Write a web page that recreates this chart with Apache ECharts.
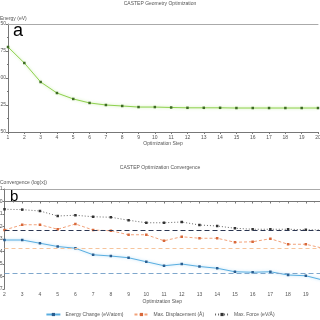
<!DOCTYPE html>
<html>
<head>
<meta charset="utf-8">
<script src="https://cdn.jsdelivr.net/npm/echarts@6/dist/echarts.min.js"></script>
<style>
  html, body { margin: 0; padding: 0; background: #fff; }
  #chart { width: 320px; height: 320px; }
</style>
</head>
<body>
<div id="chart"></div>
<script>
// (a) geometry optimisation energy
const topSteps = [1, 2, 3, 4, 5, 6, 7, 8, 9, 10, 11, 12, 13, 14, 15, 16, 17, 18, 19, 20];
const energy = [-4559.713, -4559.861, -4560.037, -4560.139, -4560.194, -4560.231, -4560.250,
  -4560.259, -4560.269, -4560.269, -4560.273, -4560.276, -4560.276, -4560.276, -4560.278,
  -4560.278, -4560.278, -4560.278, -4560.278, -4560.278];

// (b) convergence, log scale values
const bottomSteps = [2, 3, 4, 5, 6, 7, 8, 9, 10, 11, 12, 13, 14, 15, 16, 17, 18, 19, 20];
const energyChange = [-3.08, -3.08, -3.34, -3.60, -3.74, -4.26, -4.36, -4.50, -4.82, -5.14,
  -5.00, -5.20, -5.34, -5.62, -5.66, -5.62, -5.88, -5.94, -6.30];
const maxDisp = [-2.28, -1.86, -1.86, -2.22, -1.80, -2.28, -2.34, -2.66, -2.66, -3.14,
  -2.82, -2.94, -2.94, -3.26, -3.22, -2.98, -3.42, -3.42, -3.75];
const maxForce = [-0.62, -0.65, -0.76, -1.16, -1.10, -1.22, -1.26, -1.50, -1.70, -1.70,
  -1.64, -1.88, -1.96, -2.14, -2.22, -2.22, -2.22, -2.26, -2.28];
const thresholds = { energy: -5.74, disp: -3.70, force: -2.28 };

const font = 'Liberation Sans';
const small = { fontSize: 5, color: '#555', fontFamily: font };

function pairs(xs, ys) {
  return xs.map((x, i) => [x, ys[i]]);
}

function threshold(value, color, dash) {
  return {
    silent: true,
    symbol: 'none',
    label: { show: false },
    lineStyle: { color: color, type: dash, width: 1 },
    data: [{ yAxis: value }]
  };
}

const chart = echarts.init(document.getElementById('chart'));

const option = {
  animation: false,
  backgroundColor: '#fff',
  textStyle: { fontFamily: font },
  title: [
    { text: 'CASTEP Geometry Optimization', left: 'center', top: 1, padding: 0,
      textStyle: Object.assign({}, small, { fontWeight: 'normal' }) },
    { text: 'Energy (eV)', left: 0, top: 16, padding: 0,
      textStyle: Object.assign({}, small, { fontWeight: 'normal' }) },
    { text: 'CASTEP Optimization Convergence', left: 'center', top: 165, padding: 0,
      textStyle: Object.assign({}, small, { fontWeight: 'normal' }) },
    { text: 'Convergence (log(x))', left: 0, top: 180, padding: 0,
      textStyle: Object.assign({}, small, { fontWeight: 'normal' }) }
  ],
  graphic: [
    { type: 'text', left: 13, top: 22, z: 10, style: { text: 'a', font: '18px Liberation Sans', fill: '#000' } },
    { type: 'text', left: 10, top: 189, z: 10, style: { text: 'b', font: '15px Liberation Sans', fill: '#000' } }
  ],
  grid: [
    { left: 8, right: 2, top: 24, height: 108, containLabel: false, outerBoundsMode: 'none' },
    { left: 4.5, right: 0, top: 189, height: 100, containLabel: false, outerBoundsMode: 'none' }
  ],
  legend: {
    top: 312,
    left: 'center',
    itemWidth: 14,
    itemHeight: 4,
    itemGap: 10,
    padding: 0,
    textStyle: small,
    data: ['Energy Change (eV/atom)', 'Max. Displacement (Å)', 'Max. Force (eV/Å)']
  },
  xAxis: [
    {
      gridIndex: 0, type: 'value', min: 1, max: 20, interval: 1,
      name: 'Optimization Step', nameLocation: 'middle', nameGap: 9, nameTextStyle: small,
      axisLine: { lineStyle: { color: '#777' } },
      axisTick: { length: 2, lineStyle: { color: '#777' } },
      minorTick: { show: true, splitNumber: 2, length: 1 },
      axisLabel: Object.assign({ margin: 3 }, small),
      splitLine: { show: false }
    },
    {
      gridIndex: 0, type: 'value', position: 'top', min: 1, max: 20,
      axisLine: { show: true, lineStyle: { color: '#aaa' } },
      axisTick: { show: false }, axisLabel: { show: false }, splitLine: { show: false }
    },
    {
      gridIndex: 1, type: 'value', min: 2, max: 19.8, interval: 1,
      name: 'Optimization Step', nameLocation: 'middle', nameGap: 10, nameTextStyle: small,
      axisLine: { lineStyle: { color: '#777' } },
      axisTick: { length: 2, lineStyle: { color: '#777' } },
      minorTick: { show: true, splitNumber: 2, length: 1 },
      axisLabel: Object.assign({ margin: 3, showMaxLabel: false }, small),
      splitLine: { show: false }
    },
    {
      gridIndex: 1, type: 'value', position: 'top', min: 2, max: 19.8,
      axisLine: { show: true, lineStyle: { color: '#aaa' } },
      axisTick: { show: false }, axisLabel: { show: false }, splitLine: { show: false }
    }
  ],
  yAxis: [
    {
      gridIndex: 0, type: 'value', min: -4560.5, max: -4559.5, interval: 0.25,
      axisLine: { show: true, lineStyle: { color: '#777' } },
      axisTick: { show: true, length: 2, lineStyle: { color: '#777' } },
      minorTick: { show: true, splitNumber: 2, length: 1 },
      axisLabel: Object.assign({ margin: 2, formatter: v => v.toFixed(2) }, small),
      splitLine: { show: false }
    },
    {
      gridIndex: 1, type: 'value', min: -7, max: 1, interval: 1,
      axisLine: { show: true, lineStyle: { color: '#777' } },
      axisTick: { show: true, length: 2, lineStyle: { color: '#777' } },
      axisLabel: Object.assign({ margin: 2 }, small),
      splitLine: { show: false }
    }
  ],
  series: [
    {
      name: 'Energy', type: 'line', xAxisIndex: 0, yAxisIndex: 0,
      data: pairs(topSteps, energy),
      symbol: 'rect', symbolSize: 2.5,
      itemStyle: { color: '#3d6b22' },
      lineStyle: { color: '#8fd14f', width: 1, shadowColor: 'rgba(150,220,90,0.6)', shadowBlur: 3 }
    },
    {
      name: 'Energy Change (eV/atom)', type: 'line', xAxisIndex: 2, yAxisIndex: 1,
      data: pairs(bottomSteps, energyChange),
      symbol: 'rect', symbolSize: 2.5,
      itemStyle: { color: '#2a5d8f' },
      lineStyle: { color: '#5aaee0', width: 1, shadowColor: 'rgba(110,190,240,0.6)', shadowBlur: 3 },
      markLine: threshold(thresholds.energy, '#7fa7cc', [5, 3])
    },
    {
      name: 'Max. Displacement (Å)', type: 'line', xAxisIndex: 2, yAxisIndex: 1,
      data: pairs(bottomSteps, maxDisp),
      symbol: 'rect', symbolSize: 2.5,
      itemStyle: { color: '#d8683a' },
      lineStyle: { color: '#f2a27a', width: 1, type: [3, 2] },
      markLine: threshold(thresholds.disp, '#f6c49c', [4, 3])
    },
    {
      name: 'Max. Force (eV/Å)', type: 'line', xAxisIndex: 2, yAxisIndex: 1,
      data: pairs(bottomSteps, maxForce),
      symbol: 'rect', symbolSize: 2.5,
      itemStyle: { color: '#333' },
      lineStyle: { color: '#666', width: 1, type: [1, 2] },
      markLine: threshold(thresholds.force, '#2b3550', [5, 3])
    }
  ]
};

chart.setOption(option);
</script>
</body>
</html>
